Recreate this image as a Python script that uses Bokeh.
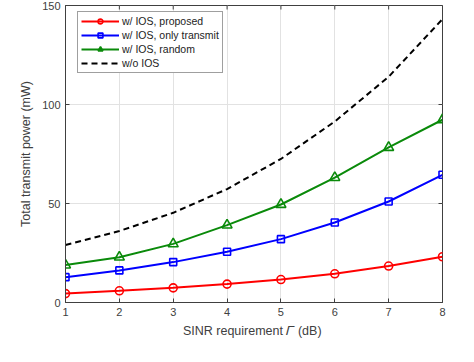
import math
from bokeh.plotting import figure
from bokeh.models import Range1d, FixedTicker, Legend
from bokeh.embed import file_html
from bokeh.resources import INLINE

sinr_db = [1, 2, 3, 4, 5, 6, 7, 8]
p_proposed = [4.5, 5.9, 7.4, 9.3, 11.6, 14.5, 18.4, 23.1]
p_only_transmit = [12.8, 16.2, 20.4, 25.6, 32.0, 40.4, 51.0, 64.5]
p_random = [18.9, 22.9, 29.6, 39.1, 49.5, 63.1, 78.3, 92.3]
p_no_ios = [29.0, 36.1, 45.3, 57.3, 72.5, 91.4, 114.0, 143.1]
x_ticks = [1, 2, 3, 4, 5, 6, 7, 8]
y_ticks = [0, 50, 100, 150]

FONT = "Liberation Sans"
AX = "#404040"

p = figure(width=458, height=346, output_backend="svg", toolbar_location=None,
           x_range=Range1d(min(x_ticks), max(x_ticks)), y_range=Range1d(min(y_ticks), max(y_ticks)),
           min_border_left=65, min_border_right=16, min_border_top=5, min_border_bottom=44)
p.outline_line_color = AX
p.outline_line_width = 1
p.background_fill_color = "white"

for ax in (p.xaxis[0], p.yaxis[0]):
    ax.major_tick_in = 4
    ax.major_tick_out = 0
    ax.minor_tick_in = 0
    ax.minor_tick_out = 0
    ax.axis_line_color = AX
    ax.major_tick_line_color = AX
    ax.major_label_text_font = FONT
    ax.major_label_text_font_size = "11px"
    ax.major_label_text_color = AX
    ax.major_label_standoff = 5
    ax.axis_label_text_font = FONT
    ax.axis_label_text_font_size = "12.5px"
    ax.axis_label_text_font_style = "normal"
    ax.axis_label_text_color = AX
p.xaxis[0].ticker = FixedTicker(ticks=x_ticks)
p.yaxis[0].ticker = FixedTicker(ticks=y_ticks)
p.yaxis[0].axis_label = "Total transmit power (mW)"
p.yaxis[0].axis_label_standoff = 6
p.xaxis[0].axis_label = "SINR requirement  \U0001D6E4 (dB)"
p.xaxis[0].axis_label_standoff = 5

p.xgrid.ticker = FixedTicker(ticks=x_ticks)
p.ygrid.ticker = FixedTicker(ticks=y_ticks)
p.grid.grid_line_color = "#e2e2e2"
p.grid.grid_line_width = 1

# inward ticks on the top and right edges of the box
p.scatter(x_ticks, [max(y_ticks)] * len(x_ticks), marker="dash", angle=math.pi / 2, size=8,
          line_color=AX, line_width=1)
p.scatter([max(x_ticks)] * len(y_ticks), y_ticks, marker="dash", size=8,
          line_color=AX, line_width=1)

RED, BLUE, GREEN = "#ff0000", "#0000ff", "#0a8a0a"
r1 = p.line(sinr_db, p_proposed, line_color=RED, line_width=2)
m1 = p.scatter(sinr_db, p_proposed, marker="circle", size=8, line_color=RED, line_width=1.6, fill_color=None)
r2 = p.line(sinr_db, p_only_transmit, line_color=BLUE, line_width=2)
m2 = p.scatter(sinr_db, p_only_transmit, marker="square", size=7, line_color=BLUE, line_width=1.6, fill_color=None)
r3 = p.line(sinr_db, p_random, line_color=GREEN, line_width=2)
m3 = p.scatter(sinr_db, p_random, marker="triangle", size=10, line_color=GREEN, line_width=1.6, fill_color=None)
r4 = p.line(sinr_db, p_no_ios, line_color="black", line_width=2, line_dash="6 4")

legend = Legend(items=[("w/ IOS, proposed", [r1, m1]),
                       ("w/ IOS, only transmit", [r2, m2]),
                       ("w/ IOS, random", [r3, m3]),
                       ("w/o IOS", [r4])],
                location=(12, 297 - 8 - 60))
legend.label_text_font = FONT
legend.label_text_font_size = "10.5px"
legend.label_text_color = "#222222"
legend.label_height = 12
legend.glyph_height = 12
legend.glyph_width = 38
legend.label_standoff = 3
legend.spacing = 2
legend.padding = 3
legend.margin = 0
legend.border_line_color = AX
legend.border_line_width = 1
legend.background_fill_color = "white"
legend.background_fill_alpha = 1
p.add_layout(legend, "center")

open("out.html", "w").write(file_html(p, INLINE))
